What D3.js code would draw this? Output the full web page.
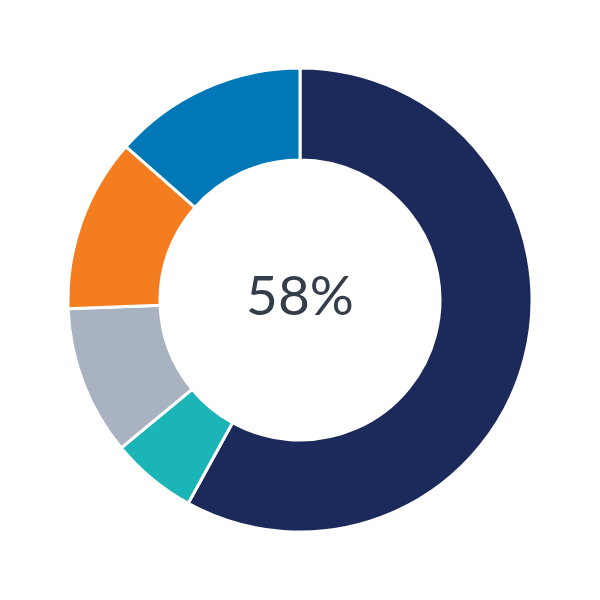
<!DOCTYPE html>
<html>
<head>
<meta charset="utf-8">
<script src="https://cdn.jsdelivr.net/npm/d3@7"></script>
<style>
  body { margin: 0; background: #fff; }
</style>
</head>
<body>
<div id="chart-area"></div>
<script>
// slices, clockwise from 12 o'clock
var labels = ["A", "B", "C", "D", "E"];
var values = [58, 6, 10.4, 12.1, 13.5];
var colors = ["#1b2a5b", "#1cb5b7", "#a8b2c0", "#f47d20", "#0077b6"];
var centerLabel = "58%";

var size = 600;
var outer = 232;
var inner = 140;

var svg = d3.select("#chart-area").append("svg")
    .attr("width", size)
    .attr("height", size);

var g = svg.append("g")
    .attr("transform", "translate(300,300)");

var pie = d3.pie()
    .sort(null)
    .value((d, i) => values[i]);

var arc = d3.arc()
    .innerRadius(inner)
    .outerRadius(outer);

g.selectAll("path")
    .data(pie(labels))
    .enter()
    .append("path")
    .attr("d", arc)
    .attr("fill", (d, i) => colors[i])
    .attr("stroke", "#fff")
    .attr("stroke-width", 3);

g.append("text")
    .attr("text-anchor", "middle")
    .attr("y", 15)
    .attr("font-family", "Lato")
    .attr("font-size", 55)
    .attr("fill", "#343d4a")
    .text(centerLabel);
</script>
</body>
</html>
